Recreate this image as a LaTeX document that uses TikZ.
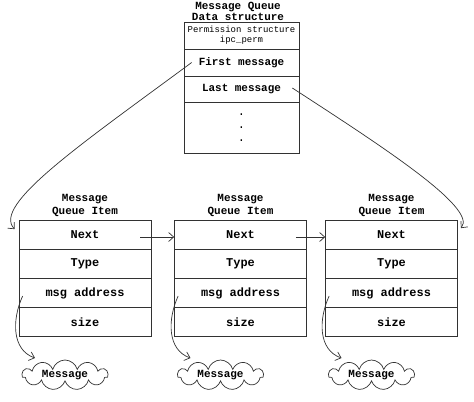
\documentclass[tikz,border=0pt]{standalone}
\usepackage{fontspec}
\setmonofont{Liberation Mono}
\usepackage{tikz}
\usetikzlibrary{arrows.meta,shapes.symbols,calc}
\definecolor{lineGray}{RGB}{50,50,50}

\begin{document}
\begin{tikzpicture}[x=1bp,y=-1bp,line width=0.7bp,
          >={Straight Barb[length=5bp,width=9bp]},
          cell/.style={draw=lineGray,minimum width=115bp,inner sep=0pt,
                       font=\ttfamily\bfseries\fontsize{11}{13}\selectfont},
          row/.style={draw=lineGray,minimum width=132bp,minimum height=29bp,
                      inner sep=0pt,font=\ttfamily\bfseries\fontsize{12}{13}\selectfont},
          ttl/.style={align=center,inner sep=0pt,
                      font=\ttfamily\bfseries\fontsize{11}{13}\selectfont},
          msg/.style={cloud,cloud puffs=11,cloud ignores aspect,draw=lineGray,
                      minimum width=86bp,minimum height=30bp,inner sep=0pt,
                      font=\ttfamily\bfseries\fontsize{11}{13}\selectfont},
        ]
        \useasboundingbox (0,0) rectangle (474,401);
        % message queue data structure
        \node[ttl,font=\ttfamily\bfseries\fontsize{11}{11}\selectfont] (qt) at (238,11)
          {Message Queue\\Data structure};
        \node[cell,minimum height=27bp,align=center,
              font=\ttfamily\fontsize{9}{10}\selectfont] (p) at (241.5,35.5)
          {Permission structure\\ipc\_perm};
        \node[cell,minimum height=27bp] (f) at (241.5,62.5){First message};
        \node[cell,minimum height=26bp] (l) at (241.5,89){Last message};
        \node[cell,minimum height=51bp,align=center,
              font=\ttfamily\fontsize{12}{13}\selectfont] (d) at (241.5,127.5){.\\.\\.};
        % queue items
        \foreach \i/\x in {1/85,2/240.5,3/391.5}{
          \node[ttl] (h\i) at (\x,205.5){Message\\Queue Item};
          \node[row] (n\i) at (\x,235){Next};
          \node[row] (t\i) at (\x,264){Type};
          \node[row] (m\i) at (\x,293){msg address};
          \node[row] (s\i) at (\x,322){size};
          \node[msg] (c\i) at (\x-20,375){Message};
          \draw[->,lineGray] ($(m\i.west)+(4,3)$) .. controls +(-11,24) and +(-23,-8) ..
            ($(c\i)+(-30,-17)$);
        }
        \draw[->,lineGray] ($(n1.east)+(-11,2)$) -- ($(n2.west)+(0,2)$);
        \draw[->,lineGray] ($(n2.east)+(-11,2)$) -- ($(n3.west)+(0,2)$);
        \draw[->,lineGray] ($(f.west)+(8,0)$) .. controls (80,145) and (-8,205) ..
          ($(n1.north west)+(-4,9)$);
        \draw[->,lineGray] ($(l.east)+(-7,-1)$) .. controls (380,145) and (478,208) ..
          ($(n3.north east)+(3,8)$);
      \end{tikzpicture}
\end{document}
